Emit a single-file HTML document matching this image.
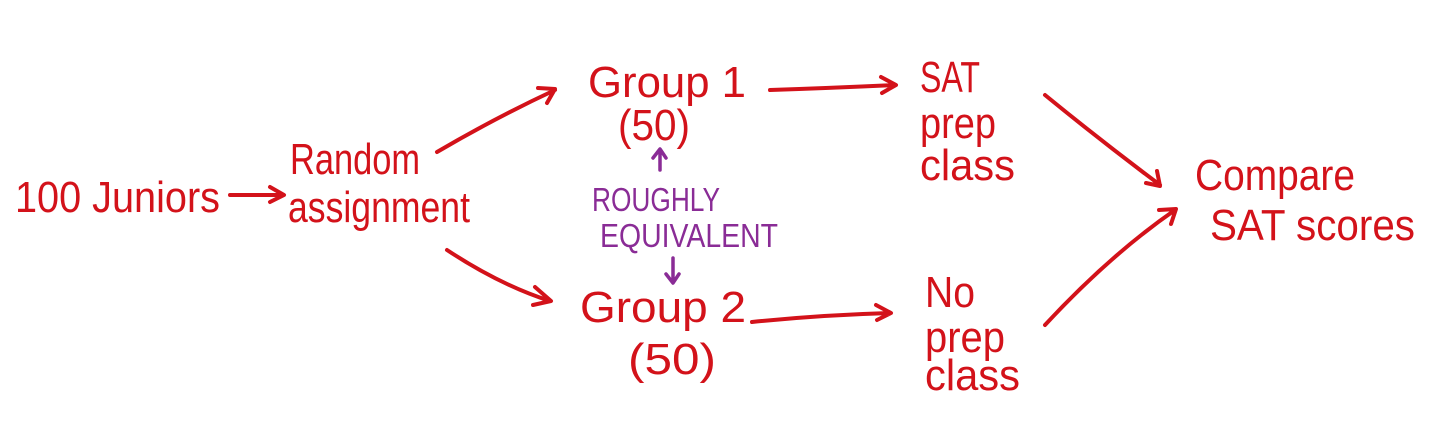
<!DOCTYPE html>
<html><head><style>
html,body{margin:0;padding:0;background:#fff;}
svg{display:block;}
text{font-family:"Liberation Sans",sans-serif;}
.r{fill:#d3121a;font-size:44px;}
.p{fill:#8a2c96;font-size:33px;}
.l{stroke:#d3121a;stroke-width:4;fill:none;stroke-linecap:round;stroke-linejoin:round;}
.lp{stroke:#8a2c96;stroke-width:3.5;fill:none;stroke-linecap:round;stroke-linejoin:round;}
</style></head><body>
<svg width="1430" height="421" viewBox="0 0 1430 421">
<text class="r" x="15" y="212" textLength="205" lengthAdjust="spacingAndGlyphs">100 Juniors</text>
<text class="r" x="290" y="174" textLength="130" lengthAdjust="spacingAndGlyphs">Random</text>
<text class="r" x="288" y="222" textLength="182" lengthAdjust="spacingAndGlyphs">assignment</text>
<text class="r" x="588" y="97" textLength="158" lengthAdjust="spacingAndGlyphs">Group 1</text>
<text class="r" x="618" y="140" textLength="72" lengthAdjust="spacingAndGlyphs">(50)</text>
<text class="r" x="580" y="322" textLength="166" lengthAdjust="spacingAndGlyphs">Group 2</text>
<text class="r" x="628" y="374" textLength="88" lengthAdjust="spacingAndGlyphs">(50)</text>
<text class="r" x="920" y="92" textLength="60" lengthAdjust="spacingAndGlyphs">SAT</text>
<text class="r" x="920" y="138" textLength="76" lengthAdjust="spacingAndGlyphs">prep</text>
<text class="r" x="920" y="180" textLength="95" lengthAdjust="spacingAndGlyphs">class</text>
<text class="r" x="925" y="307" textLength="50" lengthAdjust="spacingAndGlyphs">No</text>
<text class="r" x="925" y="352" textLength="80" lengthAdjust="spacingAndGlyphs">prep</text>
<text class="r" x="925" y="390" textLength="95" lengthAdjust="spacingAndGlyphs">class</text>
<text class="r" x="1195" y="190" textLength="160" lengthAdjust="spacingAndGlyphs">Compare</text>
<text class="r" x="1210" y="240" textLength="205" lengthAdjust="spacingAndGlyphs">SAT scores</text>
<text class="p" x="592" y="211" textLength="128" lengthAdjust="spacingAndGlyphs">ROUGHLY</text>
<text class="p" x="600" y="247" textLength="178" lengthAdjust="spacingAndGlyphs">EQUIVALENT</text>
<path class="lp" d="M660 170 L660 150 M653 158 L660 149 L666 158"/>
<path class="lp" d="M673 258 L673 282 M666 274 L673 283 L679 274"/>
<path class="l" d="M230 195 L283 195 M270 187 L284 195 L270 202"/>
<path class="l" d="M437 152 Q495 118 555 90 M538 88 L555 89 L547 103"/>
<path class="l" d="M447 250 Q500 285 550 301 M535 287 L551 301 L533 305"/>
<path class="l" d="M770 90 Q830 88 895 85 M881 77 L896 85 L882 93"/>
<path class="l" d="M752 322 Q820 315 890 313 M876 305 L891 313 L877 320"/>
<path class="l" d="M1045 95 Q1100 140 1160 185 M1146 183 L1160 186 L1157 171"/>
<path class="l" d="M1045 325 Q1110 255 1175 210 M1159 210 L1176 209 L1171 224"/>
</svg>
</body></html>
